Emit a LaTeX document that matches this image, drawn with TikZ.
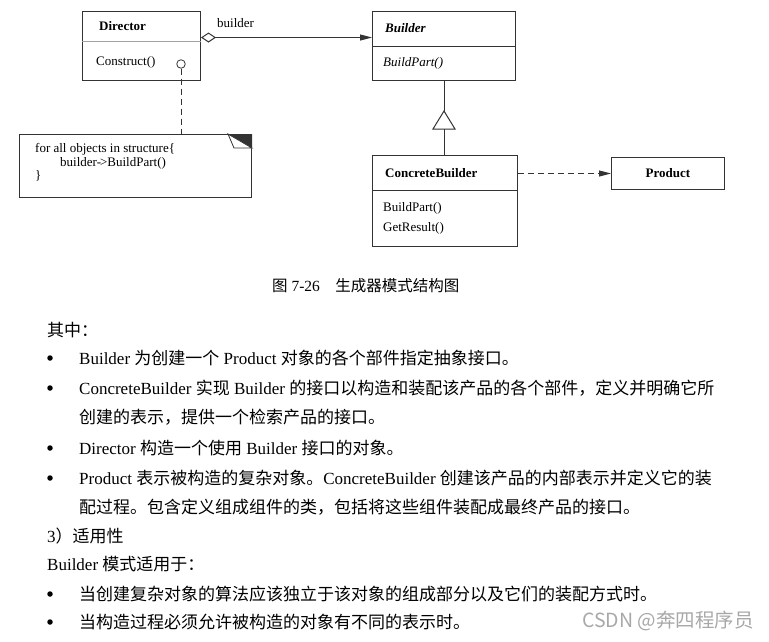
\documentclass[tikz,border=0pt]{standalone}
\usepackage{fontspec}
\setmainfont{Liberation Serif}
\newfontfamily\hanzi{Noto Sans CJK SC}
\usepackage{xcolor}
\usepackage{tikz}
\usetikzlibrary{arrows.meta, positioning, calc}
\definecolor{linegray}{HTML}{333333}
\definecolor{markgray}{HTML}{A8A8A8}
\newcommand{\zh}[1]{{\hanzi #1}}

\begin{document}
\begin{tikzpicture}[x=1pt, y=-1pt,
  cls/.style={draw=linegray, line width=1pt, anchor=north west, inner sep=0pt},
  clsname/.style={font=\fontsize{13pt}{15pt}\selectfont\bfseries, anchor=west, inner sep=0pt},
  op/.style={font=\fontsize{13pt}{15pt}\selectfont, anchor=west, inner sep=0pt},
  body/.style={font=\fontsize{17pt}{20pt}\selectfont, anchor=west, inner sep=0pt},
  bulletdot/.style={circle, fill=black, inner sep=0pt, minimum size=5.5pt},
  link/.style={draw=linegray, line width=1pt},
  dashlink/.style={link, dash pattern=on 6pt off 4pt},
]
  \useasboundingbox (0,0) rectangle (769,641);

  \node[cls, minimum width=118pt, minimum height=69pt] (director) at (82,11) {};
  \draw[linegray!45] ($(director.north west)+(0,30)$) -- ($(director.north east)+(0,30)$);
  \node[clsname] (directorname) at (99,26) {Director};
  \node[op] (construct) at (96,62) {Construct()};
  \node[circle, draw=linegray, line width=0.8pt, minimum size=8.5pt, inner sep=0pt] (hook) at (181,64) {};

  \node[cls, minimum width=143pt, minimum height=69pt] (builder) at (372,11) {};
  \draw[linegray] ($(builder.north west)+(0,35)$) -- ($(builder.north east)+(0,35)$);
  \node[clsname] (buildername) at (385,28) {\itshape Builder};
  \node[op] (abstractpart) at (383,63) {\itshape BuildPart()};

  \node[cls, minimum width=145pt, minimum height=91pt] (concrete) at (372,155) {};
  \draw[linegray] ($(concrete.north west)+(0,35)$) -- ($(concrete.north east)+(0,35)$);
  \node[clsname] (concretename) at (385,173) {ConcreteBuilder};
  \node[op] (buildpart) at (383,208) {BuildPart()};
  \node[op] (getresult) at (383,228) {GetResult()};

  \node[cls, minimum width=113pt, minimum height=32pt] (product) at (611,157) {};
  \node[clsname, anchor=center] (productname) at (product) {Product};

  \node[cls, minimum width=232pt, minimum height=63pt] (note) at (19,134) {};
  \fill[linegray] ($(note.north east)+(-24,0)$) -- (note.north east) -- ($(note.north east)+(0,14)$) -- cycle;
  \draw[linegray, line width=0.8pt, fill=white] ($(note.north east)+(-24,0)$) -- ($(note.north east)+(-18,14)$) -- ($(note.north east)+(0,14)$) -- cycle;
  \node[op] (noteline1) at (35,149) {for all objects in structure\{};
  \node[op] (noteline2) at (60,163) {builder-\kern-1pt>BuildPart()};
  \node[op] (noteline3) at (35,176) {\}};

  \draw[link, {Diamond[open, length=15pt, width=10pt]}-{Triangle[length=12pt, width=6pt]}]
    ([yshift=8.5pt]director.east) -- ([yshift=8.5pt]builder.west);
  \node[op] (rolename) at (217,23) {builder};
  \draw[dashlink, line width=0.8pt] (hook.south) -- (hook.south |- note.north);

  \draw[link] (builder.south) -- (builder.south |- concrete.north);
  \path (builder.south |- concrete.north) ++(0,-26) coordinate (tribase);
  \draw[link, fill=white] (tribase) +(-11,0) -- +(0,-18) -- +(11,0) -- cycle;

  \draw[dashlink, -{Triangle[length=12pt, width=6pt]}] (concrete.east |- product.west) -- (product.west);

  \node[body, font=\fontsize{15.5pt}{18pt}\selectfont] (caption) at (272,286) {\zh{图} 7-26\quad\zh{生成器模式结构图}};
  \node[body] (intro) at (47,330) {\zh{其中：}};
  \node[bulletdot] (b1) at (50,358) {};
  \node[body] (item1) at (79,358) {Builder \zh{为创建一个} Product \zh{对象的各个部件指定抽象接口。}};
  \node[bulletdot] (b2) at (50,388) {};
  \node[body] (item2) at (79,388) {ConcreteBuilder \zh{实现} Builder \zh{的接口以构造和装配该产品的各个部件，定义并明确它所}};
  \node[body] (item2b) at (79,417) {\zh{创建的表示，提供一个检索产品的接口。}};
  \node[bulletdot] (b3) at (50,448) {};
  \node[body] (item3) at (79,448) {Director \zh{构造一个使用} Builder \zh{接口的对象。}};
  \node[bulletdot] (b4) at (50,478) {};
  \node[body] (item4) at (79,478) {Product \zh{表示被构造的复杂对象。}ConcreteBuilder \zh{创建该产品的内部表示并定义它的装}};
  \node[body] (item4b) at (79,507) {\zh{配过程。包含定义组成组件的类，包括将这些组件装配成最终产品的接口。}};
  \node[body] (section) at (47,536) {3\zh{）适用性}};
  \node[body] (usage) at (47,564) {Builder \zh{模式适用于：}};
  \node[bulletdot] (b5) at (50,594) {};
  \node[body] (item5) at (79,594) {\zh{当创建复杂对象的算法应该独立于该对象的组成部分以及它们的装配方式时。}};
  \node[bulletdot] (b6) at (50,622) {};
  \node[body] (item6) at (79,622) {\zh{当构造过程必须允许被构造的对象有不同的表示时。}};
  \node[font=\hanzi\fontsize{19.5pt}{22pt}\selectfont, text=markgray, anchor=east, inner sep=0pt] (watermark) at (754,621) {CSDN @奔四程序员};
\end{tikzpicture}
\end{document}
